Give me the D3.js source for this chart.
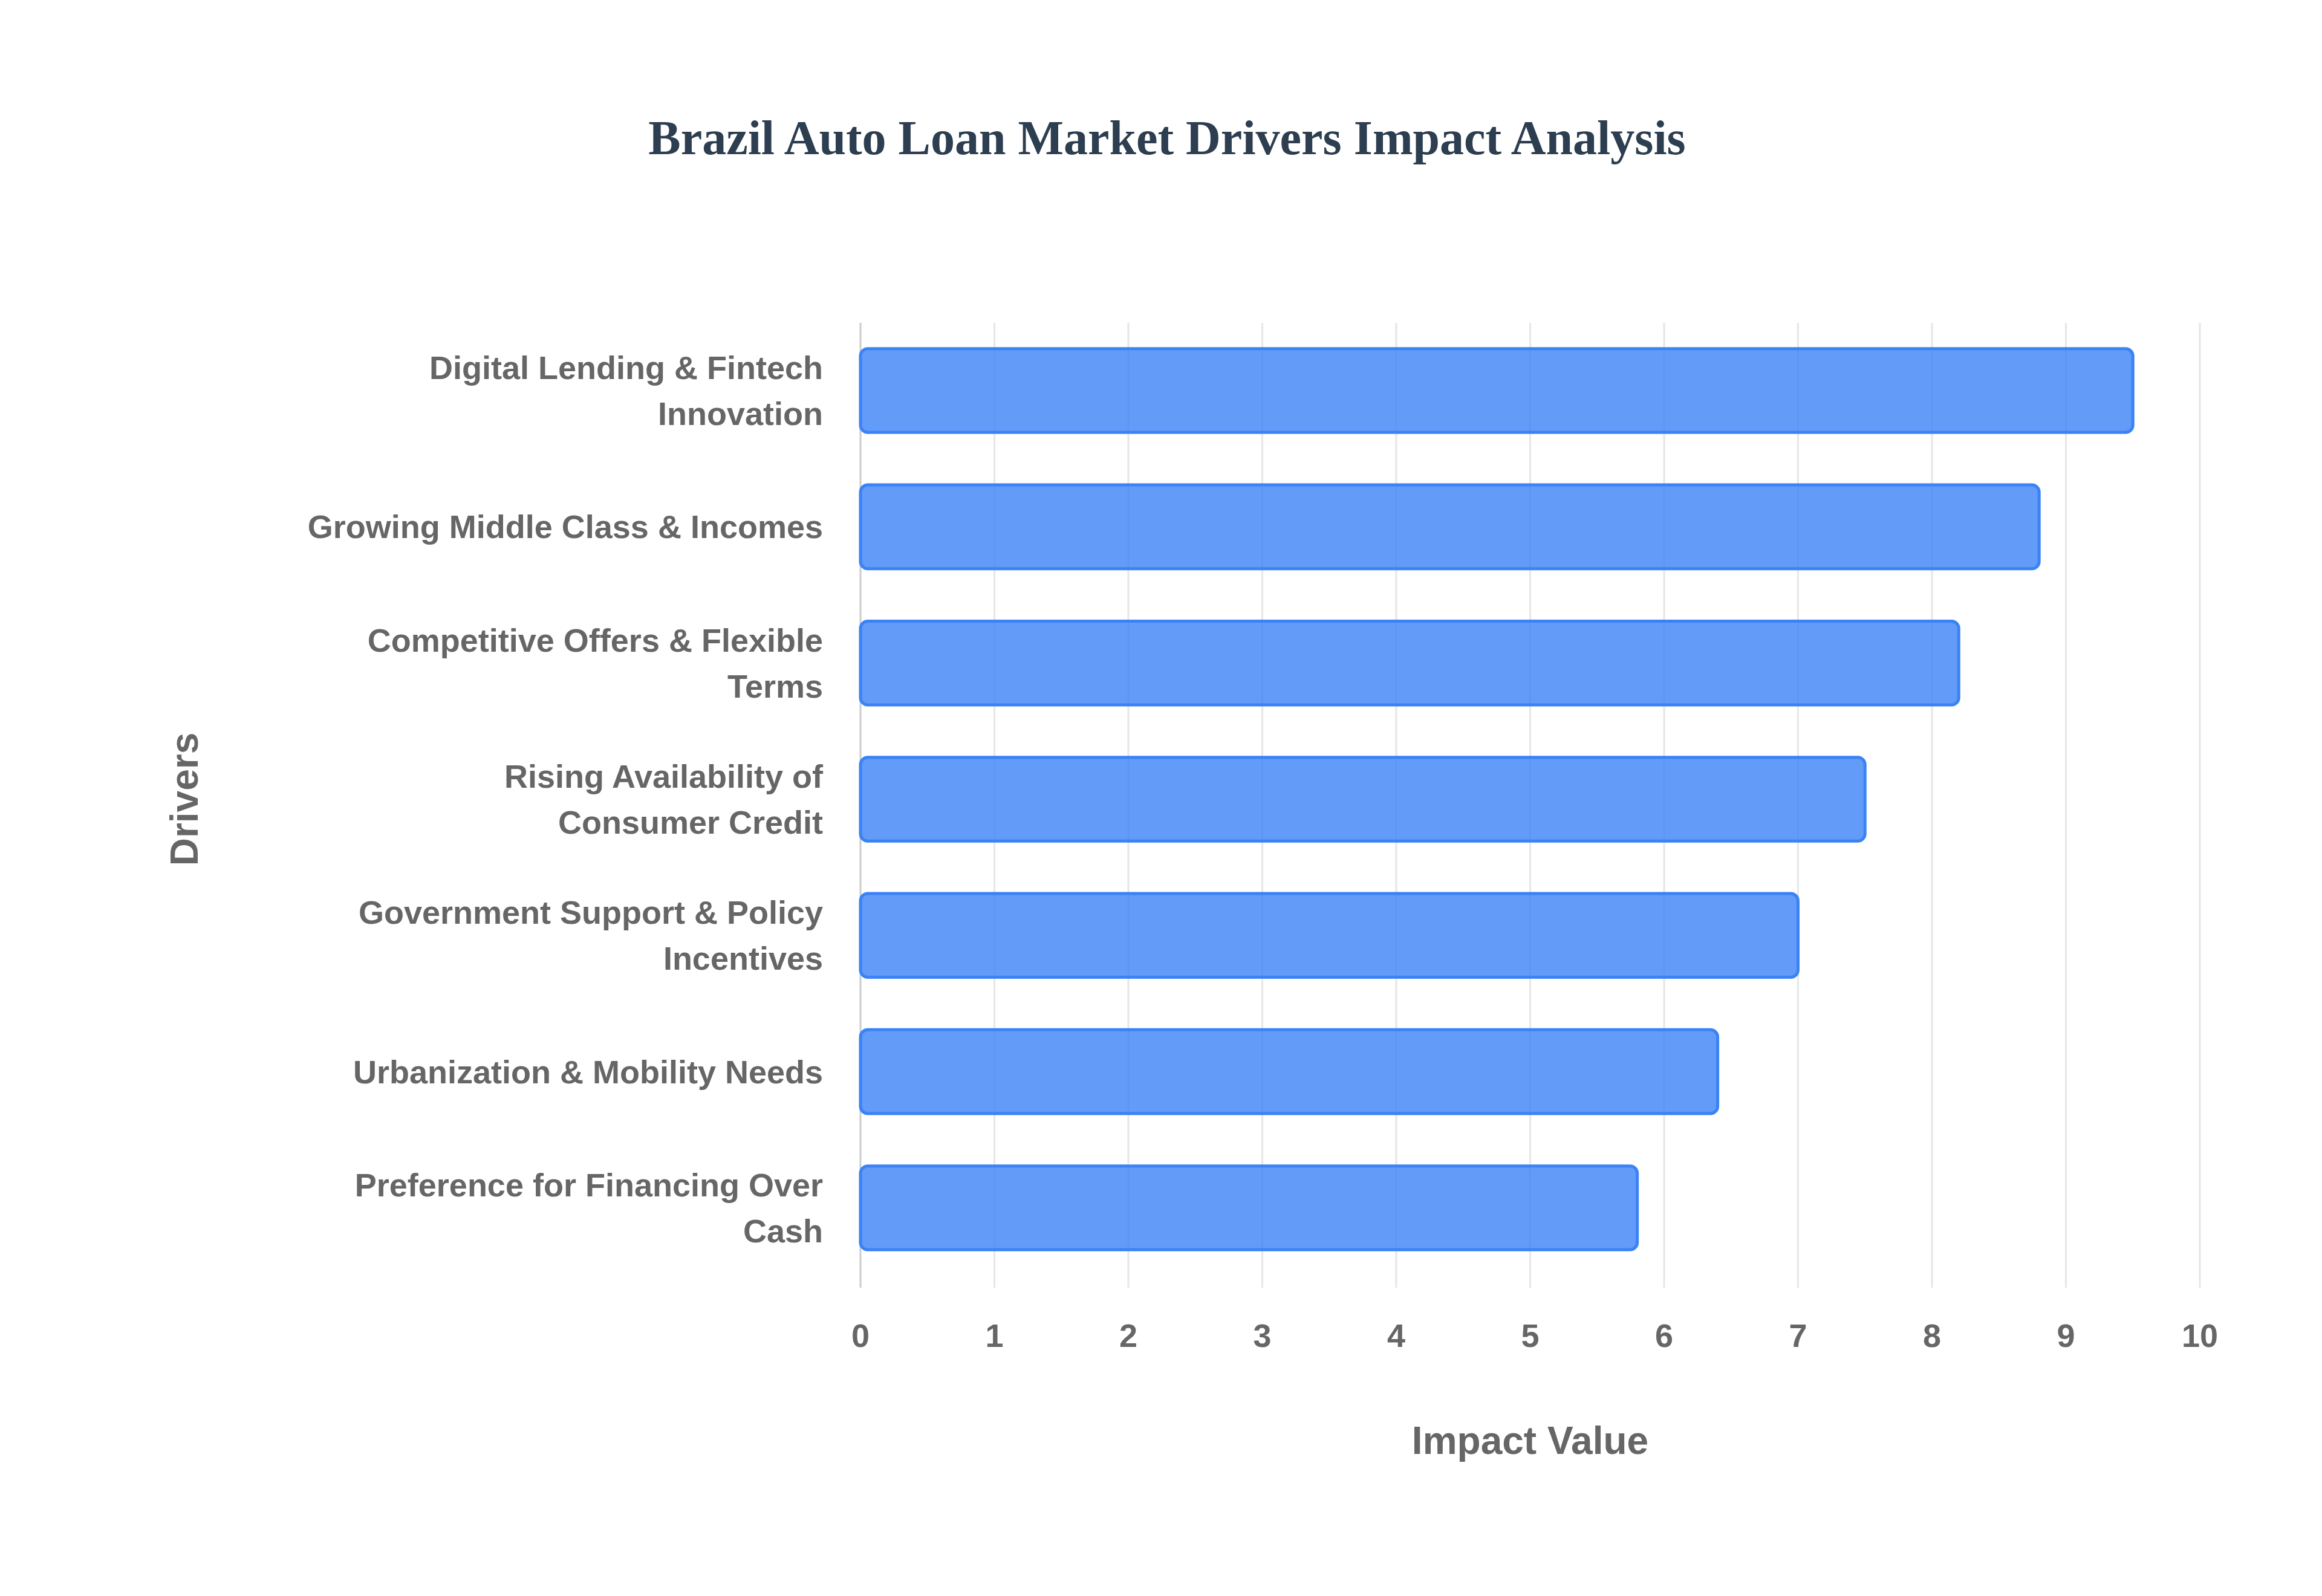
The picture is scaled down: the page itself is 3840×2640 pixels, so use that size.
<!DOCTYPE html>
<html lang="en">
<head>
<meta charset="utf-8">
<title>Brazil Auto Loan Market Drivers</title>
<script src="https://cdn.jsdelivr.net/npm/d3@7"></script>
<style>
  body { margin: 0; background: #fff; }
  text { font-family: "Liberation Sans", Arial, sans-serif; }
</style>
</head>
<body>
<script>
// data
var drivers = [
  ["Digital Lending & Fintech", "Innovation"],
  ["Growing Middle Class & Incomes"],
  ["Competitive Offers & Flexible", "Terms"],
  ["Rising Availability of", "Consumer Credit"],
  ["Government Support & Policy", "Incentives"],
  ["Urbanization & Mobility Needs"],
  ["Preference for Financing Over", "Cash"]
];
var impact = [9.5, 8.8, 8.2, 7.5, 7.0, 6.4, 5.8];
var ticks = [0, 1, 2, 3, 4, 5, 6, 7, 8, 9, 10];

var w = 3840, h = 2640;
var m = {left: 1423, right: 3638, top: 534, bottom: 2110};

var svg = d3.select("body").append("svg")
  .attr("width", w).attr("height", h);

var x = d3.scaleLinear().domain([0, 10]).range([m.left, m.right]);
var y = d3.scaleBand().domain(d3.range(drivers.length))
  .range([m.top, m.bottom]).paddingInner(0.385).paddingOuter(0.19);

// grid
svg.selectAll("line.grid").data(ticks).enter().append("line")
  .attr("x1", d => x(d)).attr("x2", d => x(d))
  .attr("y1", m.top).attr("y2", m.bottom + 20)
  .attr("stroke", d => d === 0 ? "#cccccc" : "#e6e6e6")
  .attr("stroke-width", 3);

// bars
svg.selectAll("rect.bar").data(impact).enter().append("rect")
  .attr("x", x(0))
  .attr("y", (d, i) => y(i))
  .attr("width", d => x(d) - x(0))
  .attr("height", y.bandwidth())
  .attr("rx", 12)
  .attr("fill", "rgba(59,130,246,0.8)")
  .attr("stroke", "#3b82f6")
  .attr("stroke-width", 5);

// tick labels
svg.selectAll("text.tick").data(ticks).enter().append("text")
  .attr("x", d => x(d)).attr("y", 2228)
  .attr("text-anchor", "middle")
  .attr("font-size", 54).attr("font-weight", "bold")
  .attr("fill", "#666").text(d => d);

// category labels
var lab = svg.selectAll("text.cat").data(drivers).enter().append("text")
  .attr("text-anchor", "end")
  .attr("font-size", 54).attr("font-weight", "bold").attr("fill", "#666");
lab.each(function(d, i) {
  var cy = y(i) + y.bandwidth() / 2;
  var lh = 76;
  var y0 = cy - (d.length - 1) * lh / 2 + 19;
  d3.select(this).selectAll("tspan").data(d).enter().append("tspan")
    .attr("x", 1361).attr("y", (t, j) => y0 + j * lh).text(t => t);
});

// axis titles
svg.append("text").attr("x", (m.left + m.right) / 2).attr("y", 2405)
  .attr("text-anchor", "middle").attr("font-size", 64).attr("font-weight", "bold")
  .attr("fill", "#666").text("Impact Value");
svg.append("text").attr("transform", "translate(327," + ((m.top + m.bottom) / 2) + ") rotate(-90)")
  .attr("text-anchor", "middle").attr("font-size", 64).attr("font-weight", "bold")
  .attr("fill", "#666").text("Drivers");

// title
svg.append("text").attr("x", 1930).attr("y", 255)
  .attr("text-anchor", "middle")
  .style("font-family", "'Liberation Serif', 'Times New Roman', serif")
  .attr("font-size", 80).attr("font-weight", "bold").attr("fill", "#2c3e50")
  .text("Brazil Auto Loan Market Drivers Impact Analysis");
</script>
</body>
</html>
